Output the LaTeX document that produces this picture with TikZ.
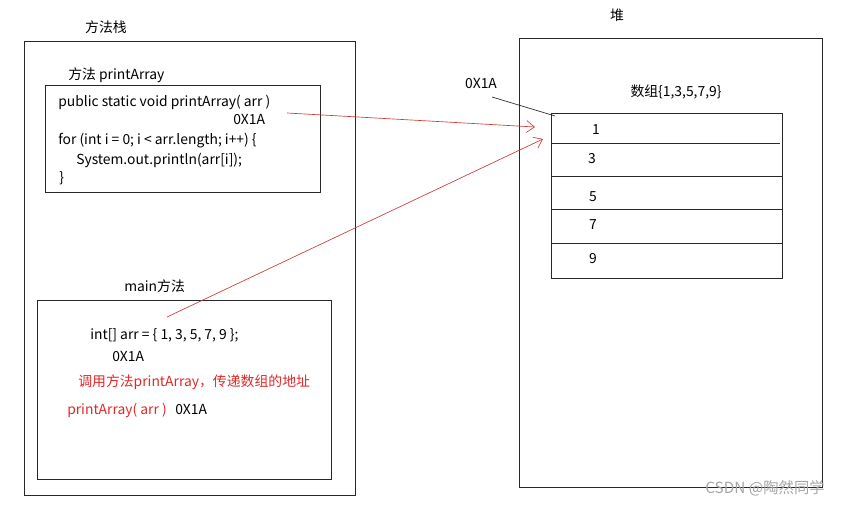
\documentclass[tikz,border=0pt]{standalone}
\usepackage{fontspec}
\setmainfont{Noto Sans CJK SC}
\usetikzlibrary{arrows.meta}
\definecolor{redline}{RGB}{205,60,60}
\definecolor{redtext}{RGB}{225,40,40}
\definecolor{boxline}{RGB}{40,40,40}
\tikzset{
  frame/.style={draw=boxline, line width=0.6pt},
  txt/.style={inner sep=0pt, anchor=west, font=\fontsize{10.4}{12}\selectfont},
  ctxt/.style={inner sep=0pt, font=\fontsize{10.4}{12}\selectfont},
  redarrow/.style={draw=redline, line width=0.5pt, -{Straight Barb[length=6pt,width=9pt]}},
}
\begin{document}
\begin{tikzpicture}[x=0.75pt,y=-0.75pt]
\useasboundingbox (0,0) rectangle (848,505);
% left stack
\node[ctxt] (stacklbl) at (106,27) {方法栈};
\draw[frame] (24,41) rectangle (355,495);
\node[txt] (pal) at (68,75) {方法 printArray};
\draw[frame] (45,85) rectangle (320,192);
\node[txt] (l1) at (58,102) {public static void printArray( arr )};
\node[txt] (l2) at (233,120) {0X1A};
\node[txt] (l3) at (58,141) {for (int i = 0; i < arr.length; i++) \{};
\node[txt] (l4) at (76,160) {System.out.println(arr[i]);};
\node[txt] (l5) at (59,178) {\}};
\node[txt] (mainlbl) at (124,286) {main方法};
\draw[frame] (37,300) rectangle (331,479);
\node[txt] (m1) at (90,335) {int[] arr = \{ 1, 3, 5, 7, 9 \};};
\node[txt] (m2) at (112,357) {0X1A};
\node[txt, text=redtext] (m3) at (78,382) {调用方法printArray，传递数组的地址};
\node[txt, text=redtext] (m4) at (67,410) {printArray( arr )};
\node[txt] (m5) at (175,410) {0X1A};
% heap
\node[ctxt] (heaplbl) at (617,15) {堆};
\draw[frame] (519,38) rectangle (822,487);
\node[ctxt] (addr) at (481,84) {0X1A};
\node[ctxt] (arrlbl) at (676,92) {数组\{1,3,5,7,9\}};
\draw[frame] (551,113) rectangle (782,278);
\draw[frame] (551,143) -- (780,143);
\draw[frame] (551,176) -- (782,176);
\draw[frame] (551,209) -- (782,209);
\draw[frame] (551,243) -- (782,243);
\node[ctxt] (v1) at (596,130) {1};
\node[ctxt] (v3) at (592,159) {3};
\node[ctxt] (v5) at (593,197) {5};
\node[ctxt] (v7) at (593,225) {7};
\node[ctxt] (v9) at (593,259) {9};
\coordinate (addrend) at (555,116);
\coordinate (addrstart) at (492,97);
\draw[boxline, line width=0.5pt] (addrstart) -- (addrend);
% arrows
\coordinate (a1s) at (287,113);
\coordinate (a1e) at (535,127);
\coordinate (a2s) at (167,317);
\coordinate (a2e) at (543,139);
\draw[redarrow] (a1s) -- (a1e);
\draw[redarrow] (a2s) -- (a2e);
% watermark
\node[ctxt, text=black!35, font=\fontsize{11.5}{13}\selectfont] (wm) at (765,488) {CSDN @陶然同学};
\end{tikzpicture}
\end{document}
